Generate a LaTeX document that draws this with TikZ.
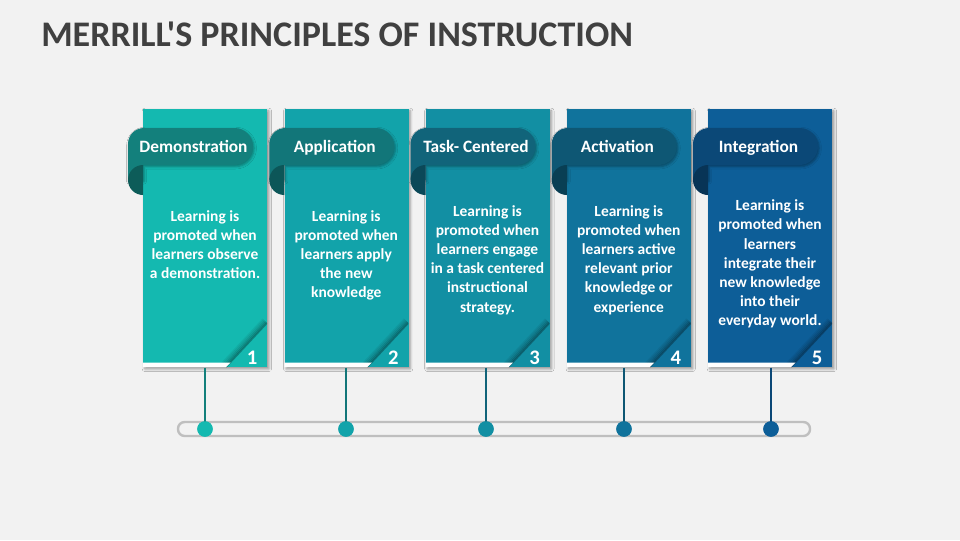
\documentclass[tikz,border=0pt]{standalone}
\usepackage{fontspec}
\setmainfont{Carlito}
\newfontfamily\titlefont{Carlito}[Ligatures=TeXOff]
\usetikzlibrary{shadows.blur}
\definecolor{bg}{HTML}{F2F2F2}
\definecolor{titlec}{HTML}{404040}
\definecolor{barc}{HTML}{BFBFBF}
\definecolor{c1}{HTML}{14B9B0}\definecolor{r1}{HTML}{13807C}\definecolor{k1}{HTML}{0D5C59}
\definecolor{c2}{HTML}{12A3AA}\definecolor{r2}{HTML}{127679}\definecolor{k2}{HTML}{0C5658}
\definecolor{c3}{HTML}{128FA3}\definecolor{r3}{HTML}{11647A}\definecolor{k3}{HTML}{0B4858}
\definecolor{c4}{HTML}{10739C}\definecolor{r4}{HTML}{0E5774}\definecolor{k4}{HTML}{093F54}
\definecolor{c5}{HTML}{0D5E98}\definecolor{r5}{HTML}{0B4877}\definecolor{k5}{HTML}{083456}
\tikzset{
  cardbox/.style={rectangle, inner sep=0pt, minimum width=93pt, minimum height=193.5pt,
    blur shadow={shadow xshift=1.2pt, shadow yshift=-1.2pt, shadow blur radius=2pt, shadow opacity=40}},
  ribbonshadow/.style={blur shadow={shadow xshift=0.8pt, shadow yshift=-1.2pt, shadow blur radius=1.8pt, shadow opacity=35}},
  lbl/.style={text=white, font=\fontsize{13}{15}\selectfont\bfseries, inner sep=0pt},
  body/.style={text=white, font=\fontsize{11.6}{14.4}\selectfont\bfseries, align=center, inner sep=0pt},
  num/.style={text=white, font=\fontsize{15.5}{16}\selectfont\bfseries, inner sep=0pt},
  stemline/.style={line width=1.5pt},
  dotnode/.style={circle, inner sep=0pt, minimum size=11.6pt},
  titlenode/.style={text=titlec, font=\titlefont\fontsize{27}{30}\selectfont\bfseries, inner sep=0pt},
}
% #1 index, #2 left x, #3 label, #4 body, #5 body top y, #6 stem x
\newcommand\mcard[6]{%
  \node[cardbox, fill=c#1, anchor=north west] (card#1) at (#2,109) {};
  \begin{scope}
    \clip (#2,109) rectangle (#2+124,367);
    \foreach \o/\op in {4/0.06,3/0.1,2/0.16,1/0.24,0/0.3}{%
      \draw[black, opacity=\op, line width=1.2pt] (#2+83-\o,367-\o) -- (#2+124-\o,323-\o);}
  \end{scope}
  \fill[white] (#2,362.5) -- (#2+87.5,362.5) -- (#2+83,367) -- (#2,367) -- cycle;
  \node[num] (num#1) at (#2+109,358) {#1};
  \fill[r#1, ribbonshadow] (#2-15,180) -- (#2-15,144) arc[start angle=180, end angle=270, radius=16]
     -- (#2+91.5,128) arc[start angle=-90, end angle=90, radius=18.5] -- (#2,165) -- (#2,180) -- cycle;
  \fill[k#1] (#2,165) arc[start angle=-90, end angle=-270, radius=15] -- cycle;
  \node[lbl, anchor=base] (lab#1) at (#2+50.5,152.5) {#3};
  \node[body, anchor=north] (txt#1) at (#2+62,#5) {#4};
  \node[dotnode, fill=c#1] (dot#1) at (#6,429) {};
  \draw[stemline, r#1] (card#1.south -| dot#1) -- (dot#1.center);
  \node[dotnode, fill=c#1] at (dot#1) {};
}
\begin{document}
\begin{tikzpicture}[x=0.75pt,y=-0.75pt]
\useasboundingbox (0,0) rectangle (960,540);
\fill[bg] (0,0) rectangle (960,540);
\node[titlenode, anchor=base west] (title) at (41,46) {MERRILL'S PRINCIPLES OF INSTRUCTION};
\node[draw=barc, line width=1.8pt, fill=bg, rounded corners=5pt, minimum width=474pt, minimum height=10.5pt, inner sep=0pt] (bar) at (494,429) {};
\mcard{1}{143}{Demonstration}{Learning is\\promoted when\\learners observe\\a demonstration.}{210}{205}
\mcard{2}{284.3}{Application}{Learning is\\promoted when\\learners apply\\the new\\knowledge}{210}{346}
\mcard{3}{425.5}{Task- Centered}{Learning is\\promoted when\\learners engage\\in a task centered\\instructional\\strategy.}{205}{486}
\mcard{4}{566.8}{Activation}{Learning is\\promoted when\\learners active\\relevant prior\\knowledge or\\experience}{205}{624}
\mcard{5}{708}{Integration}{Learning is\\promoted when\\learners\\integrate their\\new knowledge\\into their\\everyday world.}{199.5}{771}
\end{tikzpicture}
\end{document}
